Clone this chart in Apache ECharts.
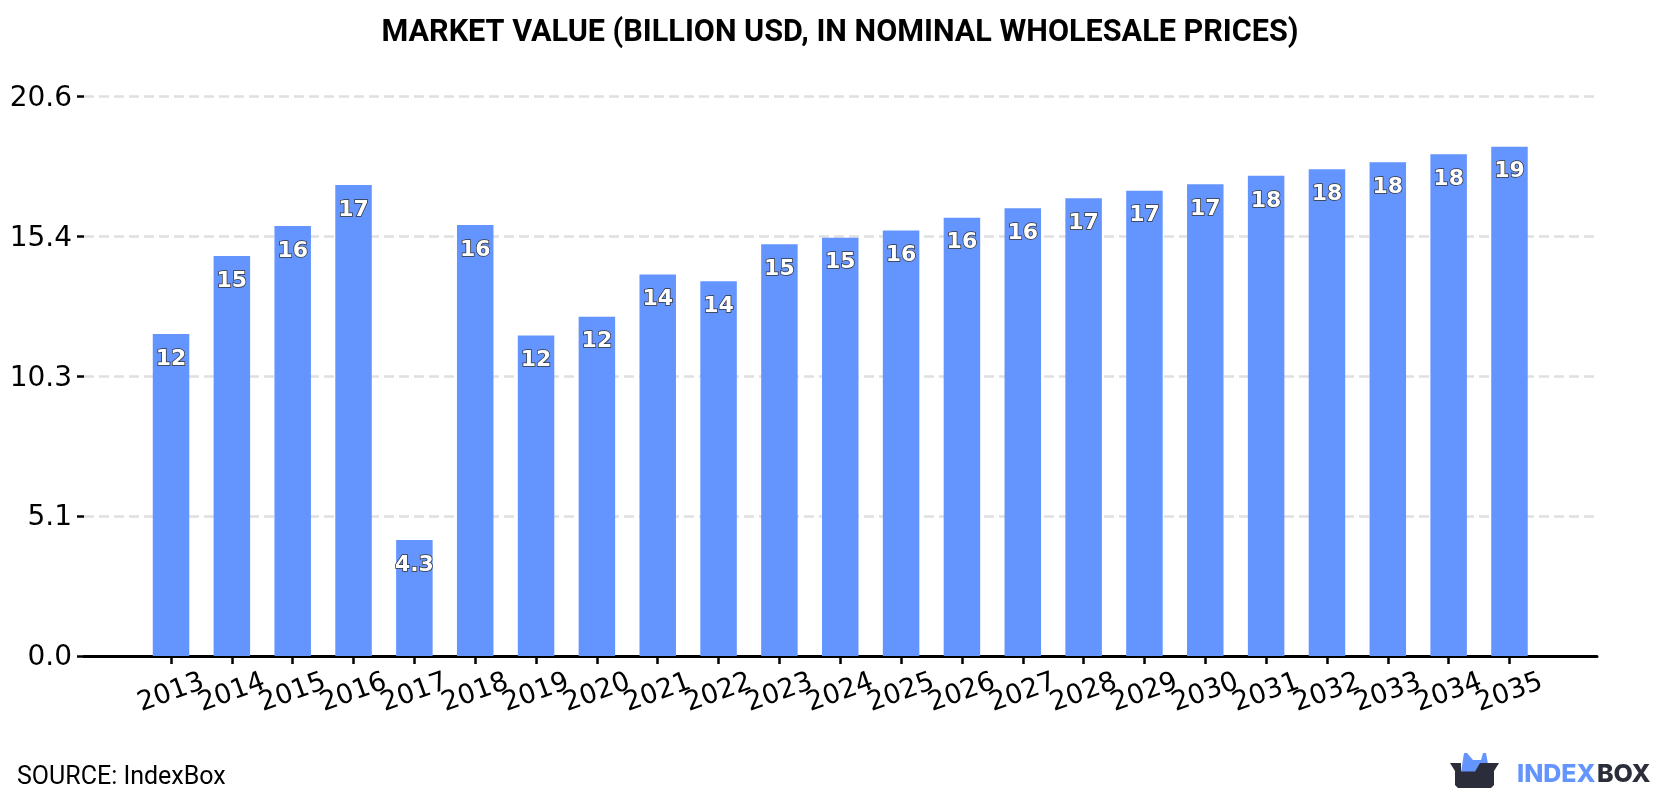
<!DOCTYPE html>
<html>
<head>
<meta charset="utf-8">
<style>html,body{margin:0;padding:0;background:#fff}#chart{width:1680px;height:800px}</style>
<script src="https://cdn.jsdelivr.net/npm/echarts@6/dist/echarts.min.js"></script>
</head>
<body>
<div id="chart"></div>
<script>
const years = ['2013','2014','2015','2016','2017','2018','2019','2020','2021','2022','2023','2024','2025','2026','2027','2028','2029','2030','2031','2032','2033','2034','2035'];
const marketValue = [11.86,14.73,15.83,17.34,4.27,15.87,11.8,12.49,14.05,13.8,15.16,15.4,15.67,16.14,16.49,16.85,17.13,17.37,17.68,17.92,18.18,18.47,18.75];
const yTickValues = [0,5.15,10.3,15.45,20.6];
const yTickLabels = ['0.0','5.1','10.3','15.4','20.6'];
const titleText = 'MARKET VALUE (BILLION USD, IN NOMINAL WHOLESALE PRICES)';
const sourceText = 'SOURCE: IndexBox';

const yScale = {type:'value',min:0,max:20.6,interval:5.15};
const chart = echarts.init(document.getElementById('chart'), null, {renderer:'canvas'});
chart.setOption({
  animation:false,
  backgroundColor:'#fff',
  title:{text:titleText,left:'center',top:13,textStyle:{fontFamily:'Roboto',fontWeight:'bold',fontSize:30.6,color:'#000'}},
  // Outer grid holds the long baseline and gridlines; inner grid holds the bars and year ticks.
  grid:[
    {left:84,right:83,top:96.5,bottom:144},
    {left:140.6,width:1399.3,top:96.5,bottom:144}
  ],
  xAxis:[
    {gridIndex:0,type:'value',min:0,max:1,splitLine:{show:false},axisTick:{show:false},axisLabel:{show:false},
      axisLine:{show:true,onZero:false,lineStyle:{color:'#000',width:3}}},
    {gridIndex:1,type:'category',data:years,axisLine:{show:false},
      axisTick:{show:true,alignWithLabel:true,interval:0,length:8,lineStyle:{color:'#000',width:2.5}},
      axisLabel:{interval:0,rotate:20,margin:37,align:'center',verticalAlign:'middle',hideOverlap:false,
        color:'#000',fontFamily:'DejaVu Sans',fontSize:27}}
  ],
  yAxis:[
    {...yScale,gridIndex:0,
      axisLine:{show:false},
      axisTick:{show:true,length:7,lineStyle:{color:'#000',width:2.5}},
      axisLabel:{margin:12,
        rich:{t:{padding:[4,0,0,0],color:'#000',fontFamily:'DejaVu Sans',fontSize:28}},
        formatter:v=>'{t|'+yTickLabels[yTickValues.findIndex(t=>Math.abs(t-v)<1e-6)]+'}'},
      splitLine:{show:true,lineStyle:{color:'#e0e0e0',width:2.5,type:[10,5]}}},
    {...yScale,gridIndex:1,show:false,splitLine:{show:false}}
  ],
  series:[{
    type:'bar',
    xAxisIndex:1,yAxisIndex:1,
    barWidth:36.5,
    data:marketValue,
    itemStyle:{color:'#6495ff'},
    label:{show:true,position:'insideTop',distance:14,color:'#fff',fontFamily:'DejaVu Sans',fontWeight:'bold',fontSize:22,
      textBorderColor:'#333',textBorderWidth:1.5,
      formatter:p=>p.value>=10?String(Math.round(p.value)):p.value.toFixed(1)}
  }],
  graphic:[
    {type:'text',left:17,top:765,style:{text:sourceText,fontFamily:'Roboto',fontSize:25,fill:'#000'}},
    // Brand mark: open box with two blue ears
    {type:'polygon',shape:{points:[[1461,772],[1464,753],[1467,753],[1473,760],[1481,760],[1483,753],[1486,753],[1488,764],[1480,764],[1475,772]]},style:{fill:'#6495ff'}},
    {type:'polygon',shape:{points:[[1450,763],[1461,763],[1461,771.5],[1475,771.5],[1480,763],[1499,763],[1494,771],[1494,785],[1491,788],[1458,788],[1455,785],[1455,771]]},style:{fill:'#2b2d3a'}},
    {type:'text',left:1517,top:762,style:{text:'INDEX',fontFamily:'Inter',fontWeight:800,fontSize:25,fill:'#6495ff'}},
    {type:'text',left:1597,top:762,style:{text:'BOX',fontFamily:'Inter',fontWeight:800,fontSize:25,fill:'#2b2d3a'}}
  ]
});
</script>
</body>
</html>
